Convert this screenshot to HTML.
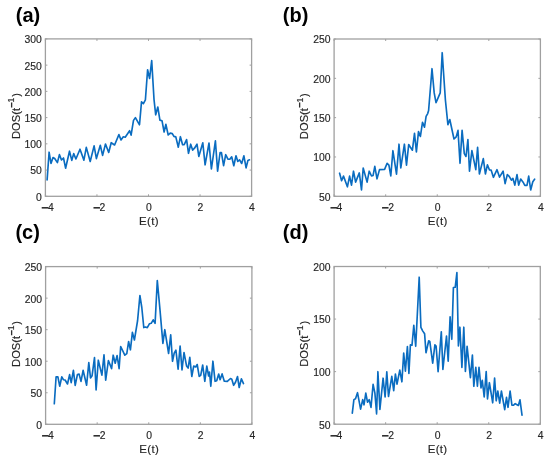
<!DOCTYPE html>
<html><head><meta charset="utf-8"><title>DOS plots</title>
<style>html,body{margin:0;padding:0;background:#fff;}svg{display:block;}</style>
</head><body>
<svg width="550" height="462" viewBox="0 0 550 462" font-family='"Liberation Sans", Arial, sans-serif' font-size="11" fill="#262626" stroke="#262626" stroke-width="0.15">
<rect width="550" height="462" fill="#fff" stroke="none"/>
<g>
<polyline points="47.1,179.9 49.1,152.2 51,163.4 53,157.5 54.7,158.5 57.4,162.6 59.4,154.6 61.5,160 63.5,158 65.6,168.2 69.5,151.2 71.8,160.4 73.7,153.6 75.9,159 80,149.2 83.9,160.1 86.3,147.4 90.2,161.5 94.1,145.9 96.4,158.6 100.3,145.3 102.6,155.4 105.5,144 108.7,152.5 111.2,142.7 114.6,145 118.9,134.6 121,139.9 123.3,136.8 125.2,137.2 129.6,130.7 131.1,135.1 133.5,120.4 135.4,117.7 139.5,124.8 141.5,101.9 143.4,103.7 145.4,99.8 147.6,69.8 149.6,78.5 151.7,60.5 154,99.3 155.7,114.8 157.8,107 159.9,120.1 162,120.7 164.1,132 165.9,124.3 168.2,135 170.2,133.1 172.3,133.6 173.9,136.4 175.8,136.9 178.3,147.2 180.4,136.7 182.6,144.7 184.2,144.7 186.6,139.6 188.5,153.3 190.7,144.2 192.6,150.1 194.5,148.2 197,144.2 198.8,156.4 202.8,142.8 205.1,164.8 209,143 211.4,169 215.4,140.8 217.6,171.1 220.1,152.5 221.4,152.5 223.6,165.7 225.7,154.7 227.9,159.2 229.8,159.2 231.7,156.8 233.8,165.7 236,155.8 237.8,161.4 239.6,159.8 241.7,163.5 243.9,155.8 246.1,167.9 247.9,160.5 249.5,159.8" fill="none" stroke="#0a6cc0" stroke-width="1.65" stroke-linejoin="round" stroke-linecap="round"/>
<rect x="45.4" y="38.9" width="206.2" height="157.4" fill="none" stroke="#a0a0a0" stroke-width="1.3"/>
<path d="M45.4 196.3V194.3M45.4 38.9V40.9M96.95 196.3V194.3M96.95 38.9V40.9M148.5 196.3V194.3M148.5 38.9V40.9M200.05 196.3V194.3M200.05 38.9V40.9M251.6 196.3V194.3M251.6 38.9V40.9M45.4 196.3H47.4M251.6 196.3H249.6M45.4 170.07H47.4M251.6 170.07H249.6M45.4 143.83H47.4M251.6 143.83H249.6M45.4 117.6H47.4M251.6 117.6H249.6M45.4 91.37H47.4M251.6 91.37H249.6M45.4 65.13H47.4M251.6 65.13H249.6M45.4 38.9H47.4M251.6 38.9H249.6" stroke="#a0a0a0" stroke-width="1" fill="none"/>
<text x="47.5" y="210.7" text-anchor="middle" font-size="10.4"><tspan font-size="12.6" font-weight="bold" dy="1.4">−</tspan><tspan dx="-0.8" dy="-1.4">4</tspan></text>
<text x="99.05" y="210.7" text-anchor="middle" font-size="10.4"><tspan font-size="12.6" font-weight="bold" dy="1.4">−</tspan><tspan dx="-0.8" dy="-1.4">2</tspan></text>
<text x="148.9" y="210.7" text-anchor="middle" font-size="10.4">0</text>
<text x="200.45" y="210.7" text-anchor="middle" font-size="10.4">2</text>
<text x="252" y="210.7" text-anchor="middle" font-size="10.4">4</text>
<text x="41.8" y="200.7" text-anchor="end" font-size="10.4">0</text>
<text x="41.8" y="174.47" text-anchor="end" font-size="10.4">50</text>
<text x="41.8" y="148.23" text-anchor="end" font-size="10.4">100</text>
<text x="41.8" y="122" text-anchor="end" font-size="10.4">150</text>
<text x="41.8" y="95.77" text-anchor="end" font-size="10.4">200</text>
<text x="41.8" y="69.53" text-anchor="end" font-size="10.4">250</text>
<text x="41.8" y="43.3" text-anchor="end" font-size="10.4">300</text>
<text x="148.9" y="225.3" text-anchor="middle" font-size="11.5" letter-spacing="0.3">E(t)</text>
<text transform="translate(19.8 116.1) rotate(-90)" text-anchor="middle" font-size="11.2">DOS(t<tspan dx="0.3" dy="-5.3" font-size="10" font-weight="bold">−</tspan><tspan dx="-0.6" dy="-0.3" font-size="8.5">1</tspan><tspan dx="0.9" dy="5.6">)</tspan></text>
<text x="15.8" y="21.8" font-weight="bold" font-size="20" fill="#000" stroke="none">(a)</text>
<polyline points="339.6,173.2 341.6,180.7 343.5,176.1 347.4,186.8 349.6,176.1 351.5,185.1 353.5,171.2 355.6,182.1 359.3,172.9 361.5,189.9 363.2,168 367.1,182.1 369.2,171.2 371.5,176 373.1,175.4 374.8,166.4 377,178.8 379.5,169.6 384.6,169.4 387.1,163.3 388.9,165.1 390.8,175.9 392.9,150.7 396.5,174.1 399,144.2 400.8,168 404.4,144.2 406.5,165.1 408.7,144.5 410.4,147.2 412.4,150.2 414.5,133.3 416.4,152 418.5,131.5 420.4,136.4 422.5,122.3 424.5,127.2 426.1,116.4 427.7,113.6 428.6,110.5 432,68.7 434.2,92.9 436,102.7 438.4,97.1 440.2,92.9 442.2,52.7 445.4,100 447.9,124.7 449.8,119.5 454,139 456.2,136.9 458,130.4 460,163.3 462.1,130.4 464.3,153.6 466,156.5 467.9,139.5 469.5,171.2 471.9,150.6 475.8,169.6 477.6,147.4 479.4,174 483.3,158.6 485.4,174 487.4,164.9 489.5,170 491.1,170 493.4,177.3 497,169.7 499.5,177.1 503.1,171.2 505.1,183.6 507.3,174.6 509.2,176.3 511.4,180.2 512.9,178.3 514.8,185.1 517,174.6 518.7,185.1 520.7,179 523.1,182.2 524.8,185.3 527,185.3 528.7,176.1 530.7,190 532.8,181.7 534.6,179.2" fill="none" stroke="#0a6cc0" stroke-width="1.65" stroke-linejoin="round" stroke-linecap="round"/>
<rect x="334.1" y="39" width="206.3" height="157.3" fill="none" stroke="#a0a0a0" stroke-width="1.3"/>
<path d="M334.1 196.3V194.3M334.1 39V41M385.68 196.3V194.3M385.68 39V41M437.25 196.3V194.3M437.25 39V41M488.82 196.3V194.3M488.82 39V41M540.4 196.3V194.3M540.4 39V41M334.1 196.3H336.1M540.4 196.3H538.4M334.1 156.98H336.1M540.4 156.98H538.4M334.1 117.65H336.1M540.4 117.65H538.4M334.1 78.33H336.1M540.4 78.33H538.4M334.1 39H336.1M540.4 39H538.4" stroke="#a0a0a0" stroke-width="1" fill="none"/>
<text x="336.2" y="210.7" text-anchor="middle" font-size="10.4"><tspan font-size="12.6" font-weight="bold" dy="1.4">−</tspan><tspan dx="-0.8" dy="-1.4">4</tspan></text>
<text x="387.78" y="210.7" text-anchor="middle" font-size="10.4"><tspan font-size="12.6" font-weight="bold" dy="1.4">−</tspan><tspan dx="-0.8" dy="-1.4">2</tspan></text>
<text x="437.65" y="210.7" text-anchor="middle" font-size="10.4">0</text>
<text x="489.22" y="210.7" text-anchor="middle" font-size="10.4">2</text>
<text x="540.8" y="210.7" text-anchor="middle" font-size="10.4">4</text>
<text x="330.5" y="200.7" text-anchor="end" font-size="10.4">50</text>
<text x="330.5" y="161.38" text-anchor="end" font-size="10.4">100</text>
<text x="330.5" y="122.05" text-anchor="end" font-size="10.4">150</text>
<text x="330.5" y="82.73" text-anchor="end" font-size="10.4">200</text>
<text x="330.5" y="43.4" text-anchor="end" font-size="10.4">250</text>
<text x="437.65" y="225.3" text-anchor="middle" font-size="11.5" letter-spacing="0.3">E(t)</text>
<text transform="translate(308.2 116.15) rotate(-90)" text-anchor="middle" font-size="11.2">DOS(t<tspan dx="0.3" dy="-5.3" font-size="10" font-weight="bold">−</tspan><tspan dx="-0.6" dy="-0.3" font-size="8.5">1</tspan><tspan dx="0.9" dy="5.6">)</tspan></text>
<text x="282.8" y="21.8" font-weight="bold" font-size="20" fill="#000" stroke="none">(b)</text>
<polyline points="54.3,403.8 56.1,376.8 57.9,376.8 59.7,386.2 61.8,376.8 63.4,379.7 65.1,380 67.5,384 69.6,374.6 71.2,382.7 73.4,370.3 75.2,385.4 77.4,374.6 79.1,374.1 81,381.4 83.1,370.3 86.6,385.2 88.8,362.6 90.5,377.9 92.1,375.7 94.5,357.6 96.1,390 98.3,360.2 101.9,375.1 104,354.9 105.7,380.2 108.4,360.5 111.6,368.6 113.2,355.2 115.2,363.2 117.1,355.5 119.1,368.6 120.7,346.5 124.8,355.2 126.8,353.6 128.6,341.5 130.4,349.8 132.4,332.4 134.4,340 137.6,320.5 139.9,295.5 141.8,307.5 143.8,327.6 145.4,327 147.3,327.6 149.5,323.7 151.2,323.3 153.2,319.8 155.1,323.3 157.3,280.5 159.9,308.8 162.9,343.4 164.8,329.7 168.6,353.5 170.7,334.9 172.5,361.3 174.2,353.1 175.9,350.1 178.1,369.1 180.1,346 182,370 184,352.5 186.6,366.1 188.1,368.1 189.8,357.4 191.8,376.5 193.7,366.1 195.7,367 197.2,364.5 199.2,376.4 200.7,375.3 202.7,365 204.8,381.3 206.8,366.1 208.6,376 209.5,372 210.8,386.3 212.9,361.2 215.1,381.3 216.7,380.7 218.7,374 220.1,379.7 222.1,373.9 224.3,381.2 227.3,381.4 230.5,378.5 231.8,379.2 233.6,385.3 235.5,382.2 237.5,376.5 239.2,387.5 241.4,378.8 243.5,383.6" fill="none" stroke="#0a6cc0" stroke-width="1.65" stroke-linejoin="round" stroke-linecap="round"/>
<rect x="45.6" y="266.6" width="206.3" height="157.7" fill="none" stroke="#a0a0a0" stroke-width="1.3"/>
<path d="M45.6 424.3V422.3M45.6 266.6V268.6M97.18 424.3V422.3M97.18 266.6V268.6M148.75 424.3V422.3M148.75 266.6V268.6M200.33 424.3V422.3M200.33 266.6V268.6M251.9 424.3V422.3M251.9 266.6V268.6M45.6 424.3H47.6M251.9 424.3H249.9M45.6 392.76H47.6M251.9 392.76H249.9M45.6 361.22H47.6M251.9 361.22H249.9M45.6 329.68H47.6M251.9 329.68H249.9M45.6 298.14H47.6M251.9 298.14H249.9M45.6 266.6H47.6M251.9 266.6H249.9" stroke="#a0a0a0" stroke-width="1" fill="none"/>
<text x="47.7" y="438.7" text-anchor="middle" font-size="10.4"><tspan font-size="12.6" font-weight="bold" dy="1.4">−</tspan><tspan dx="-0.8" dy="-1.4">4</tspan></text>
<text x="99.28" y="438.7" text-anchor="middle" font-size="10.4"><tspan font-size="12.6" font-weight="bold" dy="1.4">−</tspan><tspan dx="-0.8" dy="-1.4">2</tspan></text>
<text x="149.15" y="438.7" text-anchor="middle" font-size="10.4">0</text>
<text x="200.73" y="438.7" text-anchor="middle" font-size="10.4">2</text>
<text x="252.3" y="438.7" text-anchor="middle" font-size="10.4">4</text>
<text x="42" y="428.7" text-anchor="end" font-size="10.4">0</text>
<text x="42" y="397.16" text-anchor="end" font-size="10.4">50</text>
<text x="42" y="365.62" text-anchor="end" font-size="10.4">100</text>
<text x="42" y="334.08" text-anchor="end" font-size="10.4">150</text>
<text x="42" y="302.54" text-anchor="end" font-size="10.4">200</text>
<text x="42" y="271" text-anchor="end" font-size="10.4">250</text>
<text x="149.15" y="453.3" text-anchor="middle" font-size="11.5" letter-spacing="0.3">E(t)</text>
<text transform="translate(19.8 343.95) rotate(-90)" text-anchor="middle" font-size="11.2">DOS(t<tspan dx="0.3" dy="-5.3" font-size="10" font-weight="bold">−</tspan><tspan dx="-0.6" dy="-0.3" font-size="8.5">1</tspan><tspan dx="0.9" dy="5.6">)</tspan></text>
<text x="15.4" y="239" font-weight="bold" font-size="20" fill="#000" stroke="none">(c)</text>
<polyline points="352.3,413.2 353.9,399.6 355.5,398.7 357.5,392.7 360.6,409.1 362.7,399.6 364,404.8 365.8,393.1 367.5,402.2 369.2,399.6 371,407.4 373.1,384.4 374.9,393.1 376.6,413.9 377.9,371.7 379.9,409.4 383.1,378.2 385.1,397 386.8,371.8 388.5,396.5 391.8,376.4 393.7,390.6 395.4,374 397,384.2 399.8,370.1 401.9,381.8 403.7,353 405.4,371.2 407.4,346.5 408.9,373.5 410.4,344.8 412,345.2 413.8,325.4 415.7,346.3 419.2,277.2 420.9,327.3 422.8,331.1 424.6,333.8 426,352.7 428.7,340.8 429.8,341.4 432.7,363.2 434.9,344.9 436.1,346.1 438.1,371.7 441.3,331.8 442.9,369.5 446.5,336 448.2,361.2 450.1,316.8 451.8,339.3 453.4,287.5 455.2,287.3 456.9,272.6 458.4,346 459.9,327.2 461.9,367.5 463.8,327.2 465.4,371.4 467.1,346.4 470.4,377.6 472.4,355 473.8,386.3 475.8,367.3 477.4,386.3 479,367.3 481,387.9 482.3,380.3 484.2,397 486.2,371.6 487.5,398.9 489.4,382.7 492.7,402.8 494.6,378.1 496.2,400.8 497.8,391 499.7,403.1 501.4,391 504.7,409.6 506.5,397.4 508,407.3 510.1,391 511.9,405.2 513.6,405.2 515.2,403.7 516.6,404.5 518.4,405.5 520,399.8 522,415.2" fill="none" stroke="#0a6cc0" stroke-width="1.65" stroke-linejoin="round" stroke-linecap="round"/>
<rect x="334.1" y="266.5" width="206.2" height="157.7" fill="none" stroke="#a0a0a0" stroke-width="1.3"/>
<path d="M334.1 424.2V422.2M334.1 266.5V268.5M385.65 424.2V422.2M385.65 266.5V268.5M437.2 424.2V422.2M437.2 266.5V268.5M488.75 424.2V422.2M488.75 266.5V268.5M540.3 424.2V422.2M540.3 266.5V268.5M334.1 424.2H336.1M540.3 424.2H538.3M334.1 371.63H336.1M540.3 371.63H538.3M334.1 319.07H336.1M540.3 319.07H538.3M334.1 266.5H336.1M540.3 266.5H538.3" stroke="#a0a0a0" stroke-width="1" fill="none"/>
<text x="336.2" y="438.6" text-anchor="middle" font-size="10.4"><tspan font-size="12.6" font-weight="bold" dy="1.4">−</tspan><tspan dx="-0.8" dy="-1.4">4</tspan></text>
<text x="387.75" y="438.6" text-anchor="middle" font-size="10.4"><tspan font-size="12.6" font-weight="bold" dy="1.4">−</tspan><tspan dx="-0.8" dy="-1.4">2</tspan></text>
<text x="437.6" y="438.6" text-anchor="middle" font-size="10.4">0</text>
<text x="489.15" y="438.6" text-anchor="middle" font-size="10.4">2</text>
<text x="540.7" y="438.6" text-anchor="middle" font-size="10.4">4</text>
<text x="330.5" y="428.6" text-anchor="end" font-size="10.4">50</text>
<text x="330.5" y="376.03" text-anchor="end" font-size="10.4">100</text>
<text x="330.5" y="323.47" text-anchor="end" font-size="10.4">150</text>
<text x="330.5" y="270.9" text-anchor="end" font-size="10.4">200</text>
<text x="437.6" y="453.2" text-anchor="middle" font-size="11.5" letter-spacing="0.3">E(t)</text>
<text transform="translate(308.2 343.85) rotate(-90)" text-anchor="middle" font-size="11.2">DOS(t<tspan dx="0.3" dy="-5.3" font-size="10" font-weight="bold">−</tspan><tspan dx="-0.6" dy="-0.3" font-size="8.5">1</tspan><tspan dx="0.9" dy="5.6">)</tspan></text>
<text x="282.8" y="239" font-weight="bold" font-size="20" fill="#000" stroke="none">(d)</text>
</g>
</svg>
</body></html>
